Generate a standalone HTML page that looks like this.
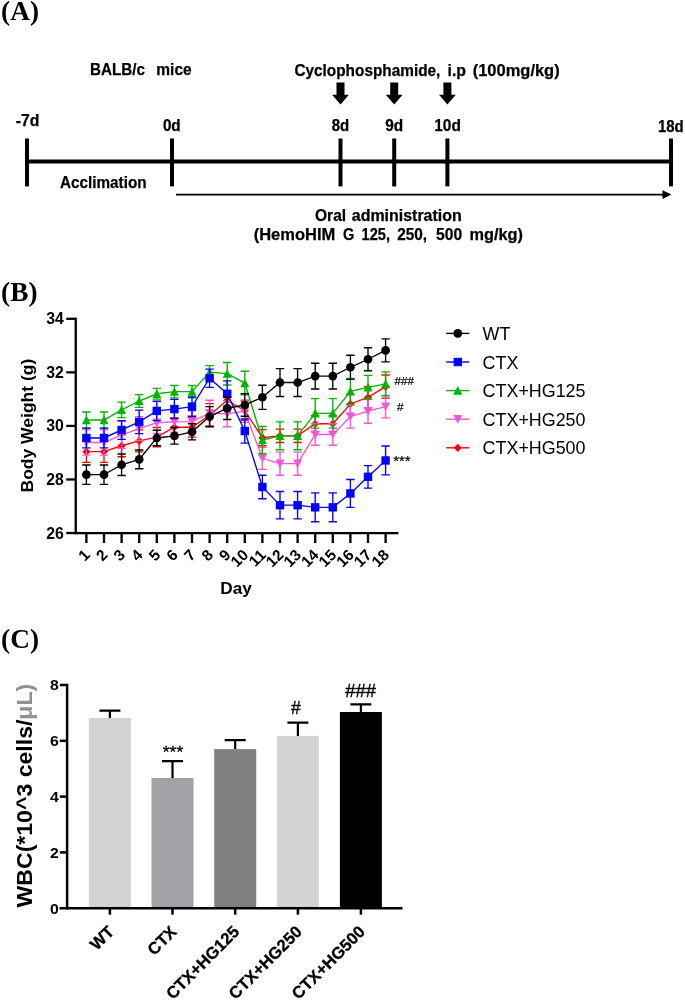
<!DOCTYPE html>
<html lang="en">
<head>
<meta charset="utf-8">
<title>Figure</title>
<style>
html,body{margin:0;padding:0;background:#fff;}
body{width:685px;height:1000px;overflow:hidden;}
svg{display:block;}
</style>
</head>
<body>
<svg width="685" height="1000" viewBox="0 0 685 1000">
<rect width="685" height="1000" fill="#fff"/>
<g id="panelA">
<text x="1.1" y="19.9" font-family='"Liberation Serif", serif' font-weight="bold" font-size="27.3">(A)</text>
<g stroke="#000" stroke-width="4" fill="none">
<line x1="25" y1="161.5" x2="673" y2="161.5"/>
<line x1="27" y1="138.5" x2="27" y2="186.4"/>
<line x1="172" y1="138.5" x2="172" y2="186.4"/>
<line x1="340.5" y1="138.5" x2="340.5" y2="186.4"/>
<line x1="394.2" y1="138.5" x2="394.2" y2="186.4"/>
<line x1="447.4" y1="138.5" x2="447.4" y2="186.4"/>
<line x1="671" y1="138.5" x2="671" y2="186.4"/>
</g>
<line x1="176" y1="194.6" x2="664" y2="194.6" stroke="#000" stroke-width="1.6"/>
<path d="M671.5 194.6 L662.5 190.2 L662.5 199 Z" fill="#000"/>
<path d="M336.5 82.6 h8 v12.2 h4.4 L340.5 104.4 L332.1 94.8 h4.4 Z" fill="#000"/>
<path d="M390.2 82.6 h8 v12.2 h4.4 L394.2 104.4 L385.8 94.8 h4.4 Z" fill="#000"/>
<path d="M443.4 82.6 h8 v12.2 h4.4 L447.4 104.4 L439.0 94.8 h4.4 Z" fill="#000"/>
<g font-family='"Liberation Sans", sans-serif' font-weight="bold" font-size="16.2" fill="#000" stroke="#000" stroke-width="0.25" lengthAdjust="spacingAndGlyphs">
<text y="74.8"><tspan x="90" textLength="55.1" lengthAdjust="spacingAndGlyphs">BALB/c</tspan> <tspan x="156.3" textLength="35.4" lengthAdjust="spacingAndGlyphs">mice</tspan></text>
<text y="76"><tspan x="294.4" textLength="146" lengthAdjust="spacingAndGlyphs">Cyclophosphamide,</tspan> <tspan x="447.5" textLength="18.5" lengthAdjust="spacingAndGlyphs">i.p</tspan> <tspan x="472.7" textLength="87" lengthAdjust="spacingAndGlyphs">(100mg/kg)</tspan></text>
<text x="15.8" y="125.5" textLength="23.6" lengthAdjust="spacingAndGlyphs" xml:space="preserve">-7d</text>
<text x="162.9" y="131" textLength="17.8" lengthAdjust="spacingAndGlyphs" xml:space="preserve">0d</text>
<text x="331.7" y="131" textLength="17.5" lengthAdjust="spacingAndGlyphs" xml:space="preserve">8d</text>
<text x="385.3" y="131" textLength="18" lengthAdjust="spacingAndGlyphs" xml:space="preserve">9d</text>
<text x="434.2" y="131" textLength="26.7" lengthAdjust="spacingAndGlyphs" xml:space="preserve">10d</text>
<text x="657.9" y="131.5" textLength="25.8" lengthAdjust="spacingAndGlyphs" xml:space="preserve">18d</text>
<text x="60" y="187.8" textLength="86.6" lengthAdjust="spacingAndGlyphs" xml:space="preserve">Acclimation</text>
<text y="221"><tspan x="315" textLength="31.2" lengthAdjust="spacingAndGlyphs">Oral</tspan> <tspan x="351.8" textLength="109.9" lengthAdjust="spacingAndGlyphs">administration</tspan></text>
<text y="240.4"><tspan x="253.7" textLength="81.6" lengthAdjust="spacingAndGlyphs">(HemoHIM</tspan> <tspan x="343" textLength="11.3" lengthAdjust="spacingAndGlyphs">G</tspan> <tspan x="361.6" textLength="28.4" lengthAdjust="spacingAndGlyphs">125,</tspan> <tspan x="397.2" textLength="29.9" lengthAdjust="spacingAndGlyphs">250,</tspan> <tspan x="436" textLength="26.1" lengthAdjust="spacingAndGlyphs">500</tspan> <tspan x="469.5" textLength="53.5" lengthAdjust="spacingAndGlyphs">mg/kg)</tspan></text>
</g>
</g>
<g id="panelB">
<text x="1.1" y="300.8" font-family='"Liberation Serif", serif' font-weight="bold" font-size="27.3">(B)</text>
<g stroke="#000" stroke-width="2.3" fill="none" stroke-linecap="butt">
<path d="M75.75 317.65 V534.19"/>
<path d="M74.6 533.04 H398.4"/>
<path d="M66.25 533.04 H75.75"/>
<path d="M66.25 479.48 H75.75"/>
<path d="M66.25 425.92 H75.75"/>
<path d="M66.25 372.36 H75.75"/>
<path d="M66.25 318.8 H75.75"/>
<path d="M86.4 533.04 V543"/>
<path d="M104 533.04 V543"/>
<path d="M121.6 533.04 V543"/>
<path d="M139.2 533.04 V543"/>
<path d="M156.8 533.04 V543"/>
<path d="M174.4 533.04 V543"/>
<path d="M192 533.04 V543"/>
<path d="M209.6 533.04 V543"/>
<path d="M227.2 533.04 V543"/>
<path d="M244.8 533.04 V543"/>
<path d="M262.4 533.04 V543"/>
<path d="M280 533.04 V543"/>
<path d="M297.6 533.04 V543"/>
<path d="M315.2 533.04 V543"/>
<path d="M332.8 533.04 V543"/>
<path d="M350.4 533.04 V543"/>
<path d="M368 533.04 V543"/>
<path d="M385.6 533.04 V543"/>
</g>
<g font-family='"Liberation Sans", sans-serif' font-weight="bold" font-size="15.8" fill="#000">
<text x="63.8" y="538.54" text-anchor="end">26</text>
<text x="63.8" y="484.98" text-anchor="end">28</text>
<text x="63.8" y="431.42" text-anchor="end">30</text>
<text x="63.8" y="377.86" text-anchor="end">32</text>
<text x="63.8" y="324.3" text-anchor="end">34</text>
<text transform="translate(90.9 555.8) rotate(-45)" text-anchor="end" font-size="15.5">1</text>
<text transform="translate(108.5 555.8) rotate(-45)" text-anchor="end" font-size="15.5">2</text>
<text transform="translate(126.1 555.8) rotate(-45)" text-anchor="end" font-size="15.5">3</text>
<text transform="translate(143.7 555.8) rotate(-45)" text-anchor="end" font-size="15.5">4</text>
<text transform="translate(161.3 555.8) rotate(-45)" text-anchor="end" font-size="15.5">5</text>
<text transform="translate(178.9 555.8) rotate(-45)" text-anchor="end" font-size="15.5">6</text>
<text transform="translate(196.5 555.8) rotate(-45)" text-anchor="end" font-size="15.5">7</text>
<text transform="translate(214.1 555.8) rotate(-45)" text-anchor="end" font-size="15.5">8</text>
<text transform="translate(231.7 555.8) rotate(-45)" text-anchor="end" font-size="15.5">9</text>
<text transform="translate(249.3 555.8) rotate(-45)" text-anchor="end" font-size="15.5">10</text>
<text transform="translate(266.9 555.8) rotate(-45)" text-anchor="end" font-size="15.5">11</text>
<text transform="translate(284.5 555.8) rotate(-45)" text-anchor="end" font-size="15.5">12</text>
<text transform="translate(302.1 555.8) rotate(-45)" text-anchor="end" font-size="15.5">13</text>
<text transform="translate(319.7 555.8) rotate(-45)" text-anchor="end" font-size="15.5">14</text>
<text transform="translate(337.3 555.8) rotate(-45)" text-anchor="end" font-size="15.5">15</text>
<text transform="translate(354.9 555.8) rotate(-45)" text-anchor="end" font-size="15.5">16</text>
<text transform="translate(372.5 555.8) rotate(-45)" text-anchor="end" font-size="15.5">17</text>
<text transform="translate(390.1 555.8) rotate(-45)" text-anchor="end" font-size="15.5">18</text>
<text x="236" y="594" text-anchor="middle" font-size="17.2">Day</text>
<text transform="translate(33.25 425.6) rotate(-90)" text-anchor="middle" font-size="16.5" textLength="133.8" lengthAdjust="spacingAndGlyphs">Body Weight (g)</text>
</g>
<g stroke="#ff0000" stroke-width="1.35" fill="none">
<polyline points="86.4,451.63 104,451.63 121.6,445.74 139.2,440.92 156.8,437.17 174.4,427.26 192,427.26 209.6,415.21 227.2,400.21 244.8,410.66 262.4,437.7 280,435.83 297.6,435.83 315.2,423.78 332.8,423.78 350.4,403.96 368,397.27 385.6,386.55"/>
<path d="M86.4 440.92V462.34M82.2 440.92h8.4M82.2 462.34h8.4M104 440.92V462.34M99.8 440.92h8.4M99.8 462.34h8.4M121.6 434.76V456.72M117.4 434.76h8.4M117.4 456.72h8.4M139.2 429.94V451.9M135 429.94h8.4M135 451.9h8.4M156.8 427.53V446.81M152.6 427.53h8.4M152.6 446.81h8.4M174.4 417.62V436.9M170.2 417.62h8.4M170.2 436.9h8.4M192 417.35V437.17M187.8 417.35h8.4M187.8 437.17h8.4M209.6 403.69V426.72M205.4 403.69h8.4M205.4 426.72h8.4M227.2 392.18V408.25M223 392.18h8.4M223 408.25h8.4M244.8 401.01V420.3M240.6 401.01h8.4M240.6 420.3h8.4M262.4 429.67V445.74M258.2 429.67h8.4M258.2 445.74h8.4M280 429.13V442.52M275.8 429.13h8.4M275.8 442.52h8.4M297.6 429.13V442.52M293.4 429.13h8.4M293.4 442.52h8.4M315.2 415.74V431.81M311 415.74h8.4M311 431.81h8.4M332.8 415.74V431.81M328.6 415.74h8.4M328.6 431.81h8.4M350.4 394.32V413.6M346.2 394.32h8.4M346.2 413.6h8.4M368 386.55V407.98M363.8 386.55h8.4M363.8 407.98h8.4M385.6 375.04V398.07M381.4 375.04h8.4M381.4 398.07h8.4"/>
</g>
<g>
<path d="M86.4 447.53 L90.4 451.63 L86.4 455.73 L82.4 451.63 Z" fill="#ff0000"/>
<path d="M104 447.53 L108 451.63 L104 455.73 L100 451.63 Z" fill="#ff0000"/>
<path d="M121.6 441.64 L125.6 445.74 L121.6 449.84 L117.6 445.74 Z" fill="#ff0000"/>
<path d="M139.2 436.82 L143.2 440.92 L139.2 445.02 L135.2 440.92 Z" fill="#ff0000"/>
<path d="M156.8 433.07 L160.8 437.17 L156.8 441.27 L152.8 437.17 Z" fill="#ff0000"/>
<path d="M174.4 423.16 L178.4 427.26 L174.4 431.36 L170.4 427.26 Z" fill="#ff0000"/>
<path d="M192 423.16 L196 427.26 L192 431.36 L188 427.26 Z" fill="#ff0000"/>
<path d="M209.6 411.11 L213.6 415.21 L209.6 419.31 L205.6 415.21 Z" fill="#ff0000"/>
<path d="M227.2 396.11 L231.2 400.21 L227.2 404.31 L223.2 400.21 Z" fill="#ff0000"/>
<path d="M244.8 406.56 L248.8 410.66 L244.8 414.76 L240.8 410.66 Z" fill="#ff0000"/>
<path d="M262.4 433.6 L266.4 437.7 L262.4 441.8 L258.4 437.7 Z" fill="#ff0000"/>
<path d="M280 431.73 L284 435.83 L280 439.93 L276 435.83 Z" fill="#ff0000"/>
<path d="M297.6 431.73 L301.6 435.83 L297.6 439.93 L293.6 435.83 Z" fill="#ff0000"/>
<path d="M315.2 419.68 L319.2 423.78 L315.2 427.88 L311.2 423.78 Z" fill="#ff0000"/>
<path d="M332.8 419.68 L336.8 423.78 L332.8 427.88 L328.8 423.78 Z" fill="#ff0000"/>
<path d="M350.4 399.86 L354.4 403.96 L350.4 408.06 L346.4 403.96 Z" fill="#ff0000"/>
<path d="M368 393.17 L372 397.27 L368 401.37 L364 397.27 Z" fill="#ff0000"/>
<path d="M385.6 382.45 L389.6 386.55 L385.6 390.65 L381.6 386.55 Z" fill="#ff0000"/>
</g>
<g stroke="#f255d6" stroke-width="1.35" fill="none">
<polyline points="86.4,442.52 104,442.52 121.6,435.03 139.2,428.6 156.8,422.71 174.4,421.9 192,421.64 209.6,413.07 227.2,413.87 244.8,411.19 262.4,458.32 280,463.68 297.6,463.68 315.2,434.49 332.8,434.49 350.4,416.55 368,411.19 385.6,406.64"/>
<path d="M86.4 429.94V455.11M82.2 429.94h8.4M82.2 455.11h8.4M104 429.94V455.11M99.8 429.94h8.4M99.8 455.11h8.4M121.6 421.64V448.42M117.4 421.64h8.4M117.4 448.42h8.4M139.2 416.55V440.65M135 416.55h8.4M135 440.65h8.4M156.8 411.99V433.42M152.6 411.99h8.4M152.6 433.42h8.4M174.4 411.73V432.08M170.2 411.73h8.4M170.2 432.08h8.4M192 410.92V432.35M187.8 410.92h8.4M187.8 432.35h8.4M209.6 400.21V425.92M205.4 400.21h8.4M205.4 425.92h8.4M227.2 401.01V426.72M223 401.01h8.4M223 426.72h8.4M244.8 399.94V422.44M240.6 399.94h8.4M240.6 422.44h8.4M262.4 447.34V469.3M258.2 447.34h8.4M258.2 469.3h8.4M280 452.16V475.2M275.8 452.16h8.4M275.8 475.2h8.4M297.6 452.16V475.2M293.4 452.16h8.4M293.4 475.2h8.4M315.2 423.78V445.2M311 423.78h8.4M311 445.2h8.4M332.8 423.78V445.2M328.6 423.78h8.4M328.6 445.2h8.4M350.4 405.03V428.06M346.2 405.03h8.4M346.2 428.06h8.4M368 399.14V423.24M363.8 399.14h8.4M363.8 423.24h8.4M385.6 395.39V417.89M381.4 395.39h8.4M381.4 417.89h8.4"/>
</g>
<g>
<path d="M86.4 447.02 L90.9 438.42 L81.9 438.42 Z" fill="#f255d6"/>
<path d="M104 447.02 L108.5 438.42 L99.5 438.42 Z" fill="#f255d6"/>
<path d="M121.6 439.53 L126.1 430.93 L117.1 430.93 Z" fill="#f255d6"/>
<path d="M139.2 433.1 L143.7 424.5 L134.7 424.5 Z" fill="#f255d6"/>
<path d="M156.8 427.21 L161.3 418.61 L152.3 418.61 Z" fill="#f255d6"/>
<path d="M174.4 426.4 L178.9 417.8 L169.9 417.8 Z" fill="#f255d6"/>
<path d="M192 426.14 L196.5 417.54 L187.5 417.54 Z" fill="#f255d6"/>
<path d="M209.6 417.57 L214.1 408.97 L205.1 408.97 Z" fill="#f255d6"/>
<path d="M227.2 418.37 L231.7 409.77 L222.7 409.77 Z" fill="#f255d6"/>
<path d="M244.8 415.69 L249.3 407.09 L240.3 407.09 Z" fill="#f255d6"/>
<path d="M262.4 462.82 L266.9 454.22 L257.9 454.22 Z" fill="#f255d6"/>
<path d="M280 468.18 L284.5 459.58 L275.5 459.58 Z" fill="#f255d6"/>
<path d="M297.6 468.18 L302.1 459.58 L293.1 459.58 Z" fill="#f255d6"/>
<path d="M315.2 438.99 L319.7 430.39 L310.7 430.39 Z" fill="#f255d6"/>
<path d="M332.8 438.99 L337.3 430.39 L328.3 430.39 Z" fill="#f255d6"/>
<path d="M350.4 421.05 L354.9 412.45 L345.9 412.45 Z" fill="#f255d6"/>
<path d="M368 415.69 L372.5 407.09 L363.5 407.09 Z" fill="#f255d6"/>
<path d="M385.6 411.14 L390.1 402.54 L381.1 402.54 Z" fill="#f255d6"/>
</g>
<g stroke="#00b400" stroke-width="1.35" fill="none">
<polyline points="86.4,420.03 104,420.03 121.6,409.85 139.2,401.01 156.8,393.78 174.4,391.64 192,391.64 209.6,372.09 227.2,373.7 244.8,383.07 262.4,440.11 280,435.83 297.6,435.83 315.2,413.33 332.8,413.33 350.4,391.37 368,387.36 385.6,383.88"/>
<path d="M86.4 411.99V428.06M82.2 411.99h8.4M82.2 428.06h8.4M104 411.99V428.06M99.8 411.99h8.4M99.8 428.06h8.4M121.6 402.09V417.62M117.4 402.09h8.4M117.4 417.62h8.4M139.2 394.59V407.44M135 394.59h8.4M135 407.44h8.4M156.8 388.43V399.14M152.6 388.43h8.4M152.6 399.14h8.4M174.4 385.48V397.8M170.2 385.48h8.4M170.2 397.8h8.4M192 385.48V397.8M187.8 385.48h8.4M187.8 397.8h8.4M209.6 365.67V378.52M205.4 365.67h8.4M205.4 378.52h8.4M227.2 362.45V384.95M223 362.45h8.4M223 384.95h8.4M244.8 371.29V394.86M240.6 371.29h8.4M240.6 394.86h8.4M262.4 426.46V453.77M258.2 426.46h8.4M258.2 453.77h8.4M280 421.9V449.75M275.8 421.9h8.4M275.8 449.75h8.4M297.6 421.9V449.75M293.4 421.9h8.4M293.4 449.75h8.4M315.2 398.6V428.06M311 398.6h8.4M311 428.06h8.4M332.8 398.6V428.06M328.6 398.6h8.4M328.6 428.06h8.4M350.4 378.52V404.23M346.2 378.52h8.4M346.2 404.23h8.4M368 375.31V399.41M363.8 375.31h8.4M363.8 399.41h8.4M385.6 371.82V395.93M381.4 371.82h8.4M381.4 395.93h8.4"/>
</g>
<g>
<path d="M86.4 415.53 L90.9 424.13 L81.9 424.13 Z" fill="#00b400"/>
<path d="M104 415.53 L108.5 424.13 L99.5 424.13 Z" fill="#00b400"/>
<path d="M121.6 405.35 L126.1 413.95 L117.1 413.95 Z" fill="#00b400"/>
<path d="M139.2 396.51 L143.7 405.11 L134.7 405.11 Z" fill="#00b400"/>
<path d="M156.8 389.28 L161.3 397.88 L152.3 397.88 Z" fill="#00b400"/>
<path d="M174.4 387.14 L178.9 395.74 L169.9 395.74 Z" fill="#00b400"/>
<path d="M192 387.14 L196.5 395.74 L187.5 395.74 Z" fill="#00b400"/>
<path d="M209.6 367.59 L214.1 376.19 L205.1 376.19 Z" fill="#00b400"/>
<path d="M227.2 369.2 L231.7 377.8 L222.7 377.8 Z" fill="#00b400"/>
<path d="M244.8 378.57 L249.3 387.17 L240.3 387.17 Z" fill="#00b400"/>
<path d="M262.4 435.61 L266.9 444.21 L257.9 444.21 Z" fill="#00b400"/>
<path d="M280 431.33 L284.5 439.93 L275.5 439.93 Z" fill="#00b400"/>
<path d="M297.6 431.33 L302.1 439.93 L293.1 439.93 Z" fill="#00b400"/>
<path d="M315.2 408.83 L319.7 417.43 L310.7 417.43 Z" fill="#00b400"/>
<path d="M332.8 408.83 L337.3 417.43 L328.3 417.43 Z" fill="#00b400"/>
<path d="M350.4 386.87 L354.9 395.47 L345.9 395.47 Z" fill="#00b400"/>
<path d="M368 382.86 L372.5 391.46 L363.5 391.46 Z" fill="#00b400"/>
<path d="M385.6 379.38 L390.1 387.98 L381.1 387.98 Z" fill="#00b400"/>
</g>
<g stroke="#0000ff" stroke-width="1.35" fill="none">
<polyline points="86.4,437.97 104,437.97 121.6,429.94 139.2,421.9 156.8,410.92 174.4,409.05 192,406.64 209.6,378.25 227.2,393.78 244.8,431.01 262.4,486.98 280,505.19 297.6,505.19 315.2,507.33 332.8,507.33 350.4,493.41 368,476.8 385.6,460.47"/>
<path d="M86.4 428.06V447.88M82.2 428.06h8.4M82.2 447.88h8.4M104 428.06V447.88M99.8 428.06h8.4M99.8 447.88h8.4M121.6 420.56V439.31M117.4 420.56h8.4M117.4 439.31h8.4M139.2 410.12V433.69M135 410.12h8.4M135 433.69h8.4M156.8 401.28V420.56M152.6 401.28h8.4M152.6 420.56h8.4M174.4 399.41V418.69M170.2 399.41h8.4M170.2 418.69h8.4M192 397V416.28M187.8 397h8.4M187.8 416.28h8.4M209.6 369.15V387.36M205.4 369.15h8.4M205.4 387.36h8.4M227.2 380.93V406.64M223 380.93h8.4M223 406.64h8.4M244.8 418.96V443.06M240.6 418.96h8.4M240.6 443.06h8.4M262.4 475.2V498.76M258.2 475.2h8.4M258.2 498.76h8.4M280 491.53V518.85M275.8 491.53h8.4M275.8 518.85h8.4M297.6 491.53V518.85M293.4 491.53h8.4M293.4 518.85h8.4M315.2 492.87V521.79M311 492.87h8.4M311 521.79h8.4M332.8 492.87V521.79M328.6 492.87h8.4M328.6 521.79h8.4M350.4 479.48V507.33M346.2 479.48h8.4M346.2 507.33h8.4M368 465.55V488.05M363.8 465.55h8.4M363.8 488.05h8.4M385.6 446V474.93M381.4 446h8.4M381.4 474.93h8.4"/>
</g>
<g>
<rect x="82.2" y="433.77" width="8.4" height="8.4" fill="#0000ff"/>
<rect x="99.8" y="433.77" width="8.4" height="8.4" fill="#0000ff"/>
<rect x="117.4" y="425.74" width="8.4" height="8.4" fill="#0000ff"/>
<rect x="135" y="417.7" width="8.4" height="8.4" fill="#0000ff"/>
<rect x="152.6" y="406.72" width="8.4" height="8.4" fill="#0000ff"/>
<rect x="170.2" y="404.85" width="8.4" height="8.4" fill="#0000ff"/>
<rect x="187.8" y="402.44" width="8.4" height="8.4" fill="#0000ff"/>
<rect x="205.4" y="374.05" width="8.4" height="8.4" fill="#0000ff"/>
<rect x="223" y="389.58" width="8.4" height="8.4" fill="#0000ff"/>
<rect x="240.6" y="426.81" width="8.4" height="8.4" fill="#0000ff"/>
<rect x="258.2" y="482.78" width="8.4" height="8.4" fill="#0000ff"/>
<rect x="275.8" y="500.99" width="8.4" height="8.4" fill="#0000ff"/>
<rect x="293.4" y="500.99" width="8.4" height="8.4" fill="#0000ff"/>
<rect x="311" y="503.13" width="8.4" height="8.4" fill="#0000ff"/>
<rect x="328.6" y="503.13" width="8.4" height="8.4" fill="#0000ff"/>
<rect x="346.2" y="489.21" width="8.4" height="8.4" fill="#0000ff"/>
<rect x="363.8" y="472.6" width="8.4" height="8.4" fill="#0000ff"/>
<rect x="381.4" y="456.27" width="8.4" height="8.4" fill="#0000ff"/>
</g>
<g stroke="#000000" stroke-width="1.35" fill="none">
<polyline points="86.4,474.66 104,474.66 121.6,464.75 139.2,459.39 156.8,437.97 174.4,435.83 192,431.81 209.6,416.55 227.2,408.25 244.8,405.03 262.4,397.27 280,382.54 297.6,382.54 315.2,376.11 332.8,376.11 350.4,367.27 368,359.24 385.6,350.4"/>
<path d="M86.4 465.02V484.3M82.2 465.02h8.4M82.2 484.3h8.4M104 465.02V484.3M99.8 465.02h8.4M99.8 484.3h8.4M121.6 454.04V475.46M117.4 454.04h8.4M117.4 475.46h8.4M139.2 450.02V468.77M135 450.02h8.4M135 468.77h8.4M156.8 430.2V445.74M152.6 430.2h8.4M152.6 445.74h8.4M174.4 427.53V444.13M170.2 427.53h8.4M170.2 444.13h8.4M192 423.78V439.85M187.8 423.78h8.4M187.8 439.85h8.4M209.6 406.64V426.46M205.4 406.64h8.4M205.4 426.46h8.4M227.2 397V419.49M223 397h8.4M223 419.49h8.4M244.8 393.78V416.28M240.6 393.78h8.4M240.6 416.28h8.4M262.4 385.21V409.32M258.2 385.21h8.4M258.2 409.32h8.4M280 368.61V396.46M275.8 368.61h8.4M275.8 396.46h8.4M297.6 368.61V396.46M293.4 368.61h8.4M293.4 396.46h8.4M315.2 363.25V388.96M311 363.25h8.4M311 388.96h8.4M332.8 363.25V388.96M328.6 363.25h8.4M328.6 388.96h8.4M350.4 355.22V379.32M346.2 355.22h8.4M346.2 379.32h8.4M368 347.72V370.75M363.8 347.72h8.4M363.8 370.75h8.4M385.6 338.88V361.92M381.4 338.88h8.4M381.4 361.92h8.4"/>
</g>
<g>
<circle cx="86.4" cy="474.66" r="4.35" fill="#000000"/>
<circle cx="104" cy="474.66" r="4.35" fill="#000000"/>
<circle cx="121.6" cy="464.75" r="4.35" fill="#000000"/>
<circle cx="139.2" cy="459.39" r="4.35" fill="#000000"/>
<circle cx="156.8" cy="437.97" r="4.35" fill="#000000"/>
<circle cx="174.4" cy="435.83" r="4.35" fill="#000000"/>
<circle cx="192" cy="431.81" r="4.35" fill="#000000"/>
<circle cx="209.6" cy="416.55" r="4.35" fill="#000000"/>
<circle cx="227.2" cy="408.25" r="4.35" fill="#000000"/>
<circle cx="244.8" cy="405.03" r="4.35" fill="#000000"/>
<circle cx="262.4" cy="397.27" r="4.35" fill="#000000"/>
<circle cx="280" cy="382.54" r="4.35" fill="#000000"/>
<circle cx="297.6" cy="382.54" r="4.35" fill="#000000"/>
<circle cx="315.2" cy="376.11" r="4.35" fill="#000000"/>
<circle cx="332.8" cy="376.11" r="4.35" fill="#000000"/>
<circle cx="350.4" cy="367.27" r="4.35" fill="#000000"/>
<circle cx="368" cy="359.24" r="4.35" fill="#000000"/>
<circle cx="385.6" cy="350.4" r="4.35" fill="#000000"/>
</g>
<g font-family='"Liberation Sans", sans-serif' font-size="11.7" fill="#000" stroke="#000" stroke-width="0.2">
<text x="394.4" y="385.4">###</text>
<text x="397" y="410.9">#</text>
<text x="393.2" y="466" font-size="15">***</text>
</g>
<g font-family='"Liberation Sans", sans-serif' font-size="17.9" fill="#000">
<line x1="446.2" y1="333.4" x2="469.3" y2="333.4" stroke="#000000" stroke-width="1.4"/>
<circle cx="457.8" cy="333.4" r="4.35" fill="#000000"/>
<text x="482.6" y="339.9">WT</text>
<line x1="446.2" y1="362" x2="469.3" y2="362" stroke="#0000ff" stroke-width="1.4"/>
<rect x="453.6" y="357.8" width="8.4" height="8.4" fill="#0000ff"/>
<text x="482.6" y="368.5">CTX</text>
<line x1="446.2" y1="390.6" x2="469.3" y2="390.6" stroke="#00b400" stroke-width="1.4"/>
<path d="M457.8 386.1 L462.3 394.7 L453.3 394.7 Z" fill="#00b400"/>
<text x="482.6" y="397.1">CTX+HG125</text>
<line x1="446.2" y1="419.2" x2="469.3" y2="419.2" stroke="#f255d6" stroke-width="1.4"/>
<path d="M457.8 423.7 L462.3 415.1 L453.3 415.1 Z" fill="#f255d6"/>
<text x="482.6" y="425.7">CTX+HG250</text>
<line x1="446.2" y1="447.8" x2="469.3" y2="447.8" stroke="#ff0000" stroke-width="1.4"/>
<path d="M457.8 443.7 L461.8 447.8 L457.8 451.9 L453.8 447.8 Z" fill="#ff0000"/>
<text x="482.6" y="454.3">CTX+HG500</text>
</g>
</g>
<g id="panelC">
<text x="1.1" y="647.8" font-family='"Liberation Serif", serif' font-weight="bold" font-size="27.3">(C)</text>
<rect x="88.9" y="718" width="42.0" height="190.2" fill="#d3d3d3"/>
<path d="M109.9 718 V710.6 M99.4 710.6 h21" stroke="#000" stroke-width="2.2" fill="none"/>
<rect x="151.5" y="778" width="42.0" height="130.2" fill="#a1a1a6"/>
<path d="M172.5 778 V761.2 M162 761.2 h21" stroke="#000" stroke-width="2.2" fill="none"/>
<rect x="214.2" y="749.1" width="42.0" height="159.1" fill="#808080"/>
<path d="M235.2 749.1 V740.2 M224.7 740.2 h21" stroke="#000" stroke-width="2.2" fill="none"/>
<rect x="276.9" y="735.9" width="42.0" height="172.3" fill="#d3d3d3"/>
<path d="M297.9 735.9 V722.6 M287.4 722.6 h21" stroke="#000" stroke-width="2.2" fill="none"/>
<rect x="339.9" y="712" width="42.0" height="196.2" fill="#000000"/>
<path d="M360.9 712 V704.3 M350.4 704.3 h21" stroke="#000" stroke-width="2.2" fill="none"/>
<g stroke="#000" stroke-width="2.5" fill="none">
<path d="M67.1 683.75 V909.45"/>
<path d="M59.5 908.2 H402.5"/>
<path d="M59.8 852.4 H67.1"/>
<path d="M59.8 796.6 H67.1"/>
<path d="M59.8 740.8 H67.1"/>
<path d="M59.8 685 H67.1"/>
<path d="M109.9 908.2 V914.7"/>
<path d="M172.5 908.2 V914.7"/>
<path d="M235.2 908.2 V914.7"/>
<path d="M297.9 908.2 V914.7"/>
<path d="M360.9 908.2 V914.7"/>
</g>
<g font-family='"Liberation Sans", sans-serif' font-weight="bold" font-size="14.3" fill="#000">
<text x="50" y="913.6" textLength="8.8" lengthAdjust="spacingAndGlyphs">0</text>
<text x="50" y="857.8" textLength="8.8" lengthAdjust="spacingAndGlyphs">2</text>
<text x="50" y="802" textLength="8.8" lengthAdjust="spacingAndGlyphs">4</text>
<text x="50" y="746.2" textLength="8.8" lengthAdjust="spacingAndGlyphs">6</text>
<text x="50" y="690.4" textLength="8.8" lengthAdjust="spacingAndGlyphs">8</text>
<text transform="translate(115.1 932.8) rotate(-45)" text-anchor="end" font-size="16.6" stroke="#000" stroke-width="0.3">WT</text>
<text transform="translate(177.7 932.8) rotate(-45)" text-anchor="end" font-size="16.6" stroke="#000" stroke-width="0.3">CTX</text>
<text transform="translate(240.4 932.8) rotate(-45)" text-anchor="end" font-size="16.6" stroke="#000" stroke-width="0.3">CTX+HG125</text>
<text transform="translate(303.1 932.8) rotate(-45)" text-anchor="end" font-size="16.6" stroke="#000" stroke-width="0.3">CTX+HG250</text>
<text transform="translate(366.1 932.8) rotate(-45)" text-anchor="end" font-size="16.6" stroke="#000" stroke-width="0.3">CTX+HG500</text>
</g>
<g font-family='"Liberation Sans", sans-serif' fill="#000" stroke="#000" stroke-width="0.35" text-anchor="middle">
<text x="173" y="758.4" font-size="17.4">***</text>
<text x="295.9" y="714.2" font-size="17.5">#</text>
<text x="360.7" y="696.7" font-size="17.5" textLength="30.8" lengthAdjust="spacingAndGlyphs">###</text>
</g>
<text transform="translate(31.5 795.6) rotate(-90)" text-anchor="middle" font-family='"Liberation Sans", sans-serif' font-weight="bold" font-size="21.8" fill="#000" textLength="223.7" lengthAdjust="spacingAndGlyphs">WBC(*10^3 cells/<tspan fill="#929292">μL)</tspan></text>
</g>
</svg>
</body>
</html>
